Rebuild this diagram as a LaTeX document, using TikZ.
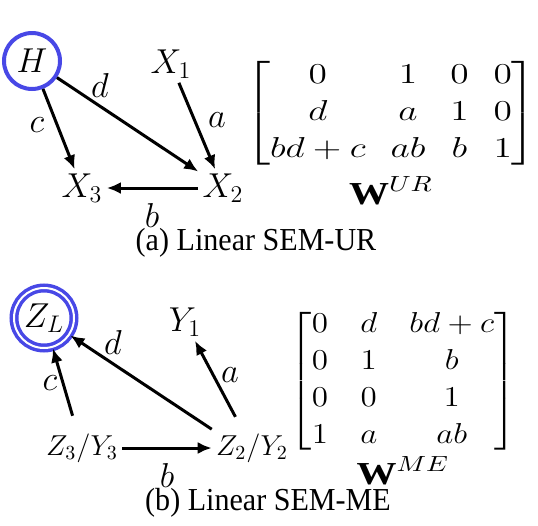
\documentclass[tikz,border=0pt]{standalone}
\usepackage{amsmath}
\usepackage{graphicx}
\usepackage{fontspec}
\setmainfont{Liberation Serif}
\usetikzlibrary{arrows.meta}
\definecolor{ringblue}{RGB}{72,72,230}

\begin{document}
\begin{tikzpicture}[x=0.5pt,y=-0.5pt,
    var/.style={inner sep=2pt, font=\fontsize{17}{20}\selectfont},
    smallvar/.style={inner sep=2pt, font=\fontsize{14}{17}\selectfont},
    coef/.style={inner sep=0pt, font=\fontsize{17}{20}\selectfont},
    link/.style={line width=1.5pt, -{Latex[length=7pt,width=6pt]}},
    ring/.style={circle, draw=ringblue, line width=2pt, inner sep=0pt, minimum size=28pt},
    dring/.style={circle, draw=ringblue, line width=1.75pt, double=white, double distance=1pt, inner sep=0pt, minimum size=30pt},
    wname/.style={font=\fontsize{16}{19}\selectfont},
    caption/.style={font=\fontsize{16}{19}\selectfont}]
    \useasboundingbox (0,0) rectangle (538,526);
    % (a) linear SEM-UR
    \node[var, ring] (h) at (32,61) {$H$};
    \node[var] (x1) at (171,64) {$X_1$};
    \node[var] (x2) at (223,188) {$X_2$};
    \node[var] (x3) at (82,188) {$X_3$};
    \draw[link] (h) -- (x3);
    \draw[link] (h) -- (x2);
    \draw[link] (x1) -- (x2);
    \draw[link] (x2) -- (x3);
    \node[coef] (ac) at (37,125) {$c$};
    \node[coef] (ad) at (100,85) {$d$};
    \node[coef] (aa) at (217,120) {$a$};
    \node[coef] (ab) at (152,215) {$b$};
    \node (wur) at (391,113) {\fontsize{14.5}{18.5}\selectfont\scalebox{1.3}[1]{$\setlength{\arraycolsep}{4.8pt}\begin{bmatrix} 0 & 1 & 0 & 0\\ d & a & 1 & 0\\ bd+c & ab & b & 1\end{bmatrix}$}};
    \node[wname] (wurname) at (391,191) {\scalebox{1.25}[1]{$\mathbf{W}^{UR}$}};
    \node[caption] (capa) at (256,243) {\scalebox{0.94}[1]{(a) Linear SEM-UR}};
    % (b) linear SEM-ME
    \node[var, dring] (zl) at (44,318) {$Z_L$};
    \node[var] (y1) at (185,322) {$Y_1$};
    \node[smallvar] (z3) at (82,448) {$Z_3/Y_3$};
    \node[smallvar] (z2) at (252,448) {$Z_2/Y_2$};
    \draw[link, shorten <=7pt] (z3) -- (zl);
    \draw[link] (z2.north west) -- (zl);
    \draw[link, shorten <=7pt] (z2) -- (y1);
    \draw[link] (z3) -- (z2);
    \node[coef] (bc) at (50,383) {$c$};
    \node[coef] (bd) at (113,342) {$d$};
    \node[coef] (ba) at (230,375) {$a$};
    \node[coef] (bb) at (167,475) {$b$};
    \node (wme) at (403,381) {\fontsize{15.5}{18.5}\selectfont\scalebox{1.15}[1]{$\setlength{\arraycolsep}{7pt}\begin{bmatrix} 0 & d & bd+c\\ 0 & 1 & b\\ 0 & 0 & 1\\ 1 & a & ab\end{bmatrix}$}};
    \node[wname] (wmename) at (403,471) {\scalebox{1.25}[1]{$\mathbf{W}^{ME}$}};
    \node[caption] (capb) at (268,503) {\scalebox{0.94}[1]{(b) Linear SEM-ME}};
\end{tikzpicture}
\end{document}
